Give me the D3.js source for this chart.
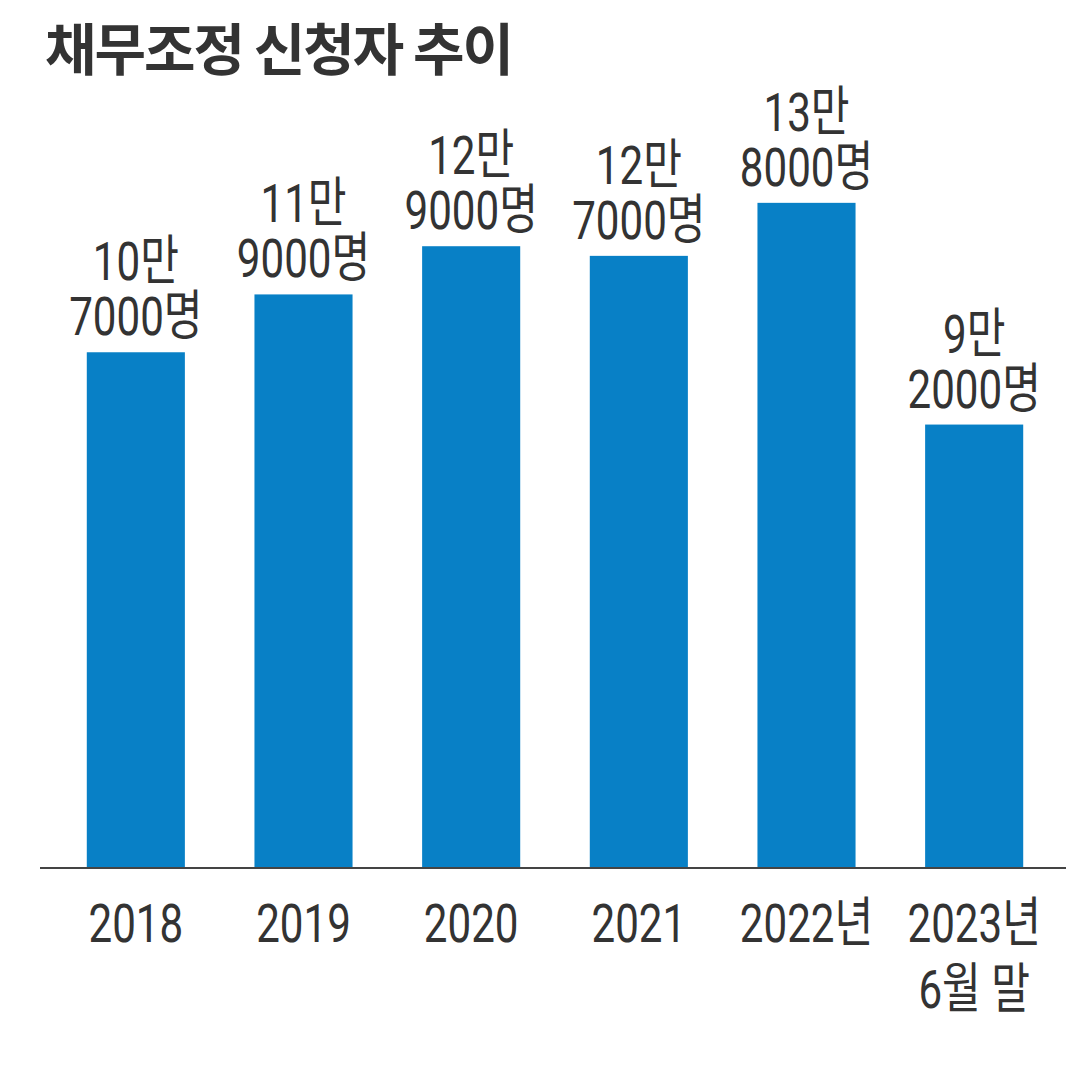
<!DOCTYPE html>
<html><head><meta charset="utf-8">
<script src="https://cdn.jsdelivr.net/npm/d3@7"></script>
<style>body{margin:0;background:#fff}</style>
</head><body>
<script>
const categories = ['2018', '2019', '2020', '2021', '2022년', '2023년|6월 말'];
const values = [107000, 119000, 129000, 127000, 138000, 92000];
const labelTop = ['10만', '11만', '12만', '12만', '13만', '9만'];
const labelBottom = ['7000명', '9000명', '9000명', '7000명', '8000명', '2000명'];

const W = 1090, H = 1068, baseY = 868;
const font = '"Roboto", "Noto Sans CJK KR", sans-serif';
const svg = d3.select('body').append('svg').attr('width', W).attr('height', H);

const x = d3.scaleBand().domain(categories).range([52, 1058]).paddingInner(0.415).paddingOuter(0.2075);
const y = d3.scaleLinear().domain([0, 100000]).range([baseY, baseY - 482]);

svg.append('text').attr('x', 45).attr('y', 70).text('채무조정 신청자 추이')
  .attr('font-family', '"Noto Sans CJK KR", sans-serif').attr('font-weight', 700)
  .attr('font-size', 56).attr('fill', '#333').attr('letter-spacing', -2);

svg.selectAll('rect.bar').data(values).join('rect').attr('class', 'bar')
  .attr('x', (d, i) => x(categories[i])).attr('width', x.bandwidth())
  .attr('y', d => y(d)).attr('height', d => baseY - y(d)).attr('fill', '#0880c6');

svg.append('line').attr('x1', 40).attr('x2', 1066).attr('y1', baseY).attr('y2', baseY)
  .attr('stroke', '#444').attr('stroke-width', 2);

const sx = 0.78;
const lab = svg.selectAll('g.lab').data(values).join('g').attr('class', 'lab')
  .attr('transform', (d, i) => `translate(${x(categories[i]) + x.bandwidth() / 2},${y(d)}) scale(${sx},1)`)
  .attr('font-family', font).attr('font-size', 54).attr('fill', '#333').attr('text-anchor', 'middle');
lab.append('text').attr('y', -72).text((d, i) => labelTop[i]);
lab.append('text').attr('y', -17).text((d, i) => labelBottom[i]);

const ax = svg.selectAll('g.ax').data(categories).join('g').attr('class', 'ax')
  .attr('transform', d => `translate(${x(d) + x.bandwidth() / 2},0) scale(${sx},1)`)
  .attr('font-family', font).attr('font-size', 54).attr('fill', '#333').attr('text-anchor', 'middle');
ax.selectAll('text').data(d => d.split('|')).join('text')
  .attr('y', (d, i) => 942 + i * 66).text(d => d);
</script>
</body></html>
